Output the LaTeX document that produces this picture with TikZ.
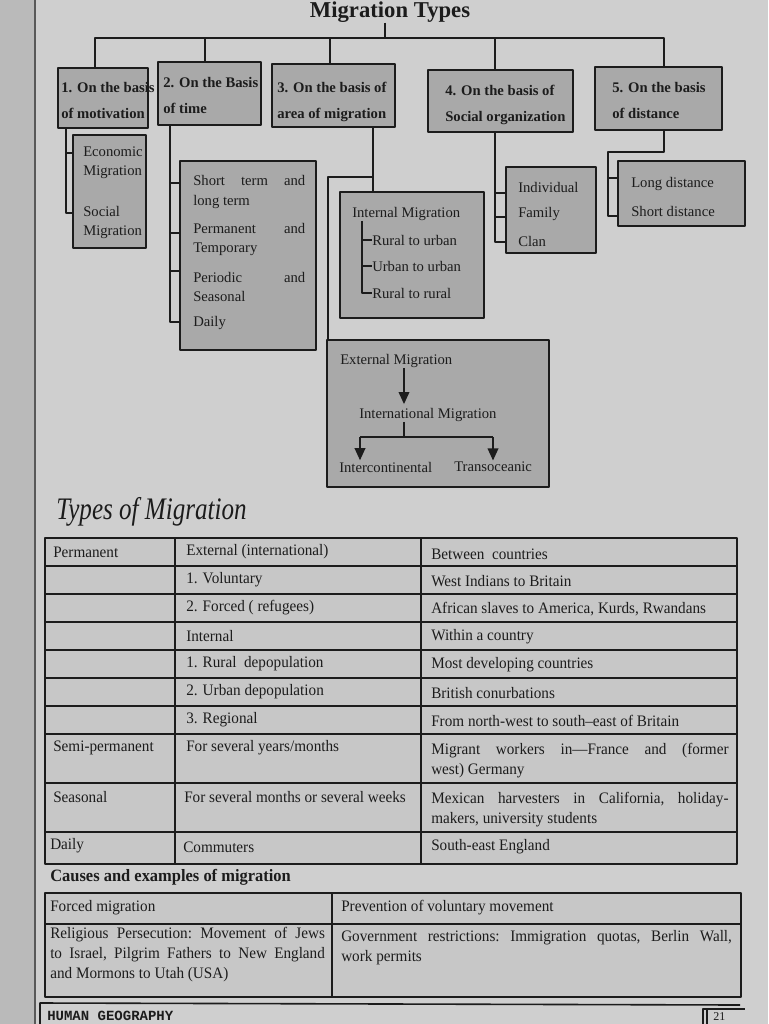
\documentclass[tikz,border=0pt]{standalone}
\usepackage{fontspec}
\setmainfont{Liberation Serif}
\newfontfamily\cnd[FakeStretch=0.95]{Liberation Serif}
\newfontfamily\cndi[FakeStretch=0.8]{Liberation Serif}
\newfontfamily\monob{Liberation Mono}
\usetikzlibrary{arrows.meta,fit}
\definecolor{pagebg}{HTML}{CFCFCF}
\definecolor{leftpage}{HTML}{BABABA}
\definecolor{boxfill}{HTML}{A9A9A9}
\definecolor{cellfill}{HTML}{C7C7C7}
\definecolor{ink}{HTML}{1C1C1C}
\begin{document}
\begin{tikzpicture}[x=0.75pt,y=-0.75pt,line join=round,
  box/.style={draw=ink,line width=1.1pt,fill=boxfill,inner sep=0pt},
  lnk/.style={draw=ink,line width=1pt},
  arr/.style={draw=ink,line width=1pt,-{Triangle[width=8pt,length=9pt]}},
  hd/.style={font=\fontsize{11}{19.5}\selectfont\bfseries,align=left,anchor=west,inner sep=0pt,text=ink},
  itm/.style={font=\fontsize{11}{14.3}\selectfont,align=left,anchor=west,inner sep=0pt,text=ink},
  cell/.style={font=\cnd\fontsize{12}{15}\selectfont,align=left,anchor=west,inner sep=0pt,text=ink},
  tline/.style={draw=ink,line width=1.2pt}]
\fill[pagebg] (0,0) rectangle (768,1024);
\useasboundingbox (0,0) rectangle (768,1024);
\fill[leftpage] (0,0) rectangle (34,1024);
\draw[gray!70!black,line width=1.5pt] (35,0) -- (35,1024);

% ---------- title and top tree ----------
\node[font=\fontsize{17}{19}\selectfont\bfseries,text=ink,inner sep=0pt] (title) at (390,12) {Migration Types};
\coordinate (stem) at (385,38);
\coordinate (bar1) at (95,38);
\coordinate (bar2) at (205,38);
\coordinate (bar3) at (330,38);
\coordinate (bar4) at (495,38);
\coordinate (bar5) at (664,38);

\node[box,fit={(58,68) (148,128)}] (b1) {};
\node[box,fit={(158,62) (261,125)}] (b2) {};
\node[box,fit={(272,64) (395,127)}] (b3) {};
\node[box,fit={(428,70) (573,132)}] (b4) {};
\node[box,fit={(595,67) (722,130)}] (b5) {};

\node[hd] (h1) at (61,100) {1. On the basis\\of motivation};
\node[hd] (h2) at (163,95) {2. On the Basis\\of time};
\node[hd] (h3) at (277,102) {3. On the basis of\\area of migration};
\node[hd] (h4) at (445,105) {4. On the basis of\\Social organization};
\node[hd] (h5) at (612,100) {5. On the basis\\of distance};

\draw[lnk] (title.south -| stem) -- (stem);
\draw[lnk] (bar1 |- b1.north) -- (bar1) -- (bar5) -- (bar5 |- b5.north);
\draw[lnk] (bar2) -- (bar2 |- b2.north);
\draw[lnk] (bar3) -- (bar3 |- b3.north);
\draw[lnk] (bar4) -- (bar4 |- b4.north);

% ---------- 1: motivation ----------
\node[box,fit={(73,135) (146,248)}] (c1) {};
\coordinate (c1a) at (66,153);
\coordinate (c1b) at (66,213);
\draw[lnk] (c1a |- b1.south) -- (c1b) -- (c1b -| c1.west);
\draw[lnk] (c1a) -- (c1a -| c1.west);
\node[itm] (e1) at (83,162.5) {Economic\\Migration};
\node[itm] (e2) at (83,222.5) {Social\\Migration};

% ---------- 2: time ----------
\node[box,fit={(180,161) (316,350)}] (c2) {};
\coordinate (c2a) at (170,183);
\coordinate (c2b) at (170,233);
\coordinate (c2c) at (170,271);
\coordinate (c2d) at (170,322);
\draw[lnk] (c2a |- b2.south) -- (c2d) -- (c2d -| c2.west);
\draw[lnk] (c2a) -- (c2a -| c2.west);
\draw[lnk] (c2b) -- (c2b -| c2.west);
\draw[lnk] (c2c) -- (c2c -| c2.west);
\node[itm] (f1) at (193,192) {\hbox to 84pt{Short\hfill term\hfill and}\\long term};
\node[itm] (f2) at (193,239.5) {\hbox to 84pt{Permanent\hfill and}\\Temporary};
\node[itm] (f3) at (193,287) {\hbox to 84pt{Periodic\hfill and}\\Seasonal};
\node[itm] (f4) at (193,323) {Daily};

% ---------- 3: area ----------
\node[box,fit={(340,192) (484,318)}] (ib) {};
\node[box,fit={(327,340) (549,487)}] (eb) {};
\coordinate (j3) at (373,177);
\coordinate (k3) at (328,177);
\draw[lnk] (j3 |- b3.south) -- (j3 |- ib.north);
\draw[lnk] (j3) -- (k3) -- (k3 |- eb.north);

\node[itm] (im) at (352,214) {Internal Migration};
\node[itm] (r1) at (372,240) {Rural to urban};
\node[itm] (r2) at (372,266) {Urban to urban};
\node[itm] (r3) at (372,293) {Rural to rural};
\coordinate (br) at (362,0);
\draw[lnk,line width=0.8pt] (im.south -| br) -- (br |- r3.west) -- (r3.west);
\draw[lnk,line width=0.8pt] (br |- r1.west) -- (r1.west);
\draw[lnk,line width=0.8pt] (br |- r2.west) -- (r2.west);

\node[itm] (ex) at (340,361) {External Migration};
\node[itm] (int) at (359,415) {International Migration};
\node[itm] (ic) at (339,467) {Intercontinental};
\node[itm] (tr) at (454,467) {Transoceanic};
\coordinate (ax) at (404,0);
\coordinate (hl) at (360,437);
\coordinate (hr) at (493,437);
\draw[arr] (ex.south -| ax) -- ([yshift=3pt]int.north -| ax);
\draw[lnk] (int.south -| ax) -- (ax |- hl);
\draw[lnk] (hl) -- (hr);
\draw[arr] (hl) -- ([yshift=1pt]hl |- ic.north);
\draw[arr] (hr) -- ([yshift=1pt]hr |- tr.north);

% ---------- 4: social organization ----------
\node[box,fit={(506,167) (596,253)}] (c4) {};
\coordinate (c4a) at (495,193);
\coordinate (c4b) at (495,217);
\coordinate (c4c) at (495,242);
\draw[lnk] (c4a |- b4.south) -- (c4c) -- (c4c -| c4.west);
\draw[lnk] (c4a) -- (c4a -| c4.west);
\draw[lnk] (c4b) -- (c4b -| c4.west);
\node[itm] (g1) at (518,187) {Individual};
\node[itm] (g2) at (518,214) {Family};
\node[itm] (g3) at (518,241) {Clan};

% ---------- 5: distance ----------
\node[box,fit={(618,161) (745,226)}] (c5) {};
\coordinate (j5) at (664,152);
\coordinate (k5) at (608,152);
\coordinate (k5a) at (608,178);
\coordinate (k5b) at (608,216);
\draw[lnk] (j5 |- b5.south) -- (j5) -- (k5) -- (k5b) -- (k5b -| c5.west);
\draw[lnk] (k5a) -- (k5a -| c5.west);
\node[itm] (d1) at (631,184) {Long distance};
\node[itm] (d2) at (631,211) {Short distance};

% ---------- Types of Migration table ----------
\node[font=\cndi\fontsize{23.5}{25}\selectfont\itshape,anchor=west,inner sep=0pt,text=ink] (tt) at (56,512) {Types of Migration};
\fill[cellfill] (45,538) rectangle (737,864);
\foreach \yy in {566,594,622,650,678,706,734,783,832}
  \draw[tline] (45,\yy) -- (737,\yy);
\draw[tline] (175,538) -- (175,864);
\draw[tline] (421,538) -- (421,864);
\draw[tline,line width=1.4pt] (45,538) rectangle (737,864);

\node[cell] (p1) at (53,552) {Permanent};
\node[cell] (p2) at (186,552) {External (international)};
\node[cell] (p3) at (431,554) {Between\ \ countries};
\node[cell] (v2) at (186,580) {1. Voluntary};
\node[cell] (v3) at (431,581) {West Indians to Britain};
\node[cell] (fo2) at (186,608) {2. Forced ( refugees)};
\node[cell] (fo3) at (431,609) {African slaves to America, Kurds, Rwandans};
\node[cell] (in2) at (186,636) {Internal};
\node[cell] (in3) at (431,637) {Within a country};
\node[cell] (ru2) at (186,664) {1. Rural\ \ depopulation};
\node[cell] (ru3) at (431,665) {Most developing countries};
\node[cell] (ur2) at (186,692) {2. Urban depopulation};
\node[cell] (ur3) at (431,693) {British conurbations};
\node[cell] (re2) at (186,720) {3. Regional};
\node[cell] (re3) at (431,721) {From north-west to south–east of Britain};
\node[cell] (s1) at (53,748) {Semi-permanent};
\node[cell] (s2) at (186,748) {For several years/months};
\node[cell] (s3) at (431,761) {\hbox to 223pt{Migrant\hfill workers\hfill in—France\hfill and\hfill (former}\\west) Germany};
\node[cell] (se1) at (53,797) {Seasonal};
\node[cell] (se2) at (184,797) {For several months or several weeks};
\node[cell] (se3) at (431,810) {\hbox to 223pt{Mexican\hfill harvesters\hfill in\hfill California,\hfill holiday-}\\makers, university students};
\node[cell] (da1) at (50,846) {Daily};
\node[cell] (da2) at (183,847) {Commuters};
\node[cell] (da3) at (431,847) {South-east England};

% ---------- Causes table ----------
\node[font=\cnd\fontsize{13}{15}\selectfont\bfseries,anchor=west,inner sep=0pt,text=ink] (ct) at (50,877) {Causes and examples of migration};
\fill[cellfill] (45,893) rectangle (741,997);
\draw[tline] (45,924) -- (741,924);
\draw[tline] (332,893) -- (332,997);
\draw[tline,line width=1.4pt] (45,893) rectangle (741,997);
\node[cell] (k1) at (50,908) {Forced migration};
\node[cell] (k2) at (341,908) {Prevention of voluntary movement};
\node[cell] (k3) at (50,955) {\hbox to 206pt{Religious\hfill Persecution:\hfill Movement\hfill of\hfill Jews}\\\hbox to 206pt{to\hfill Israel,\hfill Pilgrim\hfill Fathers\hfill to\hfill New\hfill England}\\and Mormons to Utah (USA)};
\node[cell] (k4) at (341,948) {\hbox to 293pt{Government\hfill restrictions:\hfill Immigration\hfill quotas,\hfill Berlin\hfill Wall,}\\work permits};

% ---------- footer ----------
\draw[lnk,line width=1.2pt] (40,1024) -- (40,1003) -- (740,1005);
\node[font=\monob\fontsize{10.5}{12}\selectfont\bfseries,anchor=west,inner sep=0pt,text=ink] (hg) at (47,1016) {HUMAN GEOGRAPHY};
\draw[lnk] (703,1024) -- (703,1009) -- (745,1009);
\draw[lnk] (707,1024) -- (707,1009);
\node[font=\fontsize{9}{10}\selectfont,anchor=west,inner sep=0pt,text=ink] (pg) at (713,1016.5) {21};
\end{tikzpicture}
\end{document}
